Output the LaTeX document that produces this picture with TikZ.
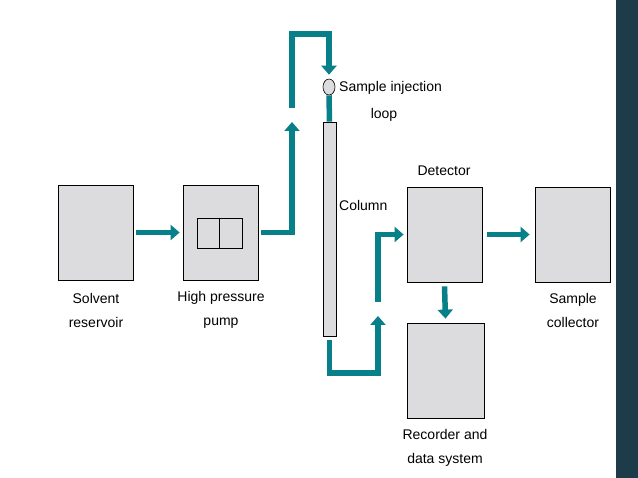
\documentclass[tikz,border=0pt]{standalone}
\usepackage{fontspec}
\setmainfont{Liberation Sans}
\usetikzlibrary{arrows.meta,shapes.geometric}
\definecolor{teal1}{HTML}{08808A}
\definecolor{boxg}{HTML}{DCDCDE}
\definecolor{bar}{HTML}{1E3B4A}
\begin{document}
\begin{tikzpicture}[x=1pt,y=-1pt,
  box/.style={draw=black,fill=boxg,line width=0.8pt},
  flow/.style={draw=teal1,line width=5.5pt},
  arr/.style={flow,-{Triangle[length=9pt,width=15pt]}},
  lab/.style={font=\fontsize{14}{24}\selectfont,align=center,inner sep=0pt}]
\useasboundingbox (0,0) rectangle (638,478);
\fill[white] (0,0) rectangle (638,478);
\fill[bar] (616,0) rectangle (638,478);
% boxes
\node[box,minimum width=75pt,minimum height=95pt] (res) at (95.5,232.5) {};
\node[box,minimum width=75pt,minimum height=95pt] (pump) at (220.5,232.5) {};
\node[draw=black,line width=0.6pt,minimum width=45pt,minimum height=30pt] (pin) at (219.5,233) {};
\draw[line width=0.6pt] (pin.north) -- (pin.south);
\node[box,minimum width=13pt,minimum height=214pt,line width=0.6pt] (col) at (329.5,229) {};
\node[box,ellipse,minimum width=12pt,minimum height=16pt,inner sep=0pt,line width=0.6pt] (loop) at (329,87) {};
\node[box,minimum width=75pt,minimum height=95pt] (det) at (444.5,234.5) {};
\node[box,minimum width=77pt,minimum height=95pt] (rec) at (445.5,370.5) {};
\node[box,minimum width=75pt,minimum height=95pt] (coll) at (572.5,234.5) {};
% coordinates
\coordinate (a1) at (292,122); \coordinate (a2) at (292,108);
\coordinate (b1) at (378,316); \coordinate (b2) at (378,302);
% flows
\draw[arr] (res.east) ++(3,0) -- ([xshift=-3pt]pump.west);
\draw[arr] ([xshift=3pt]pump.east) -| (a1);
\draw[arr] (a2) |- (329,34) -- ([yshift=4pt]loop.north);
\draw[flow] (loop.south) -- (col.north);
\draw[arr] ([yshift=-4pt]col.south) |- (378,373) -- (b1);
\draw[arr] (b2) |- ([xshift=-3pt]det.west);
\draw[arr] ([xshift=5pt]det.east) -- ([xshift=-5pt]coll.west);
\draw[arr] ([yshift=-4pt]det.south) -- ([yshift=4pt]rec.north);
% labels
\node[lab] (t1) at (96,310) {Solvent\\reservoir};
\node[lab] (t2) at (221,310) {High pressure\\pump};
\node[lab,anchor=west] (t3) at (339,88) {Sample injection};
\node[lab] (t4) at (384,115) {loop};
\node[lab,anchor=west] (t5) at (339,205) {Column};
\node[lab] (t6) at (444,171) {Detector};
\node[lab] (t7) at (573,310) {Sample\\collector};
\node[lab] (t8) at (445,448) {Recorder and\\data system};
\end{tikzpicture}
\end{document}
